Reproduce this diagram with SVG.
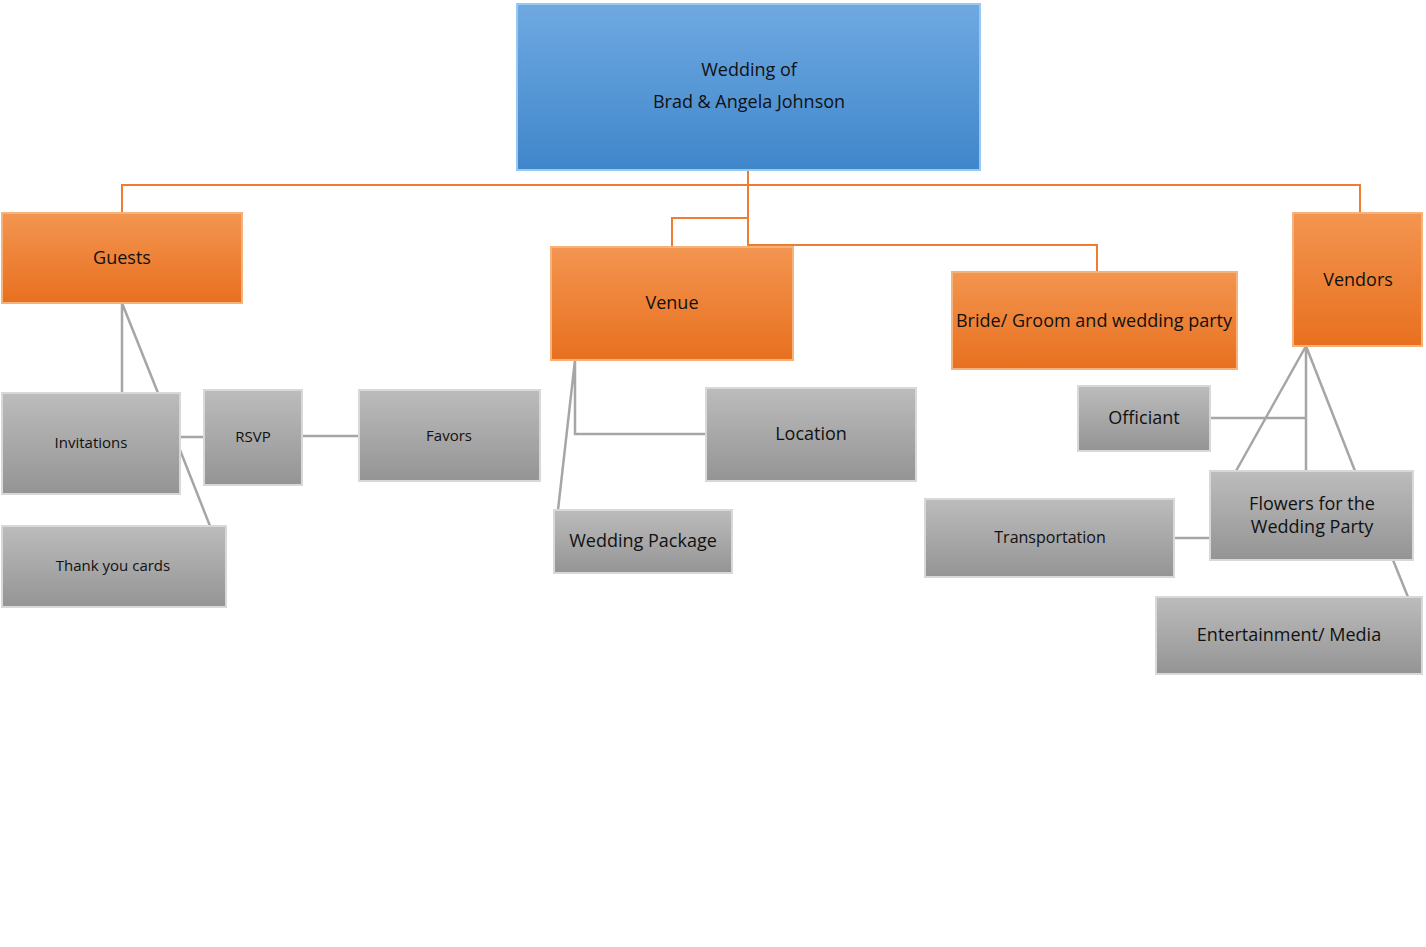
<svg xmlns="http://www.w3.org/2000/svg" width="1426" height="947" viewBox="0 0 1426 947">
<style>
text{font-family:"Open Sans","Noto Sans",sans-serif;fill:#111;text-anchor:middle}
.o{fill:url(#og);stroke:#f5b27a;stroke-width:2}
.g{fill:url(#gg);stroke:#d8d8d8;stroke-width:2}
.oc{stroke:#ed7d31;stroke-width:2;fill:none}
.gc{stroke:#a6a6a6;stroke-width:2.5;fill:none}
</style>
<defs>
<linearGradient id="bg" x1="0" y1="0" x2="0" y2="1"><stop offset="0" stop-color="#6fa9e2"/><stop offset="1" stop-color="#3f86ca"/></linearGradient>
<linearGradient id="og" x1="0" y1="0" x2="0" y2="1"><stop offset="0" stop-color="#f39550"/><stop offset="1" stop-color="#e8701f"/></linearGradient>
<linearGradient id="gg" x1="0" y1="0" x2="0" y2="1"><stop offset="0" stop-color="#bcbcbc"/><stop offset="1" stop-color="#949494"/></linearGradient>
</defs>
<rect width="1426" height="947" fill="#fff"/>
<g id="connectors">
<path class="oc" d="M748 170V246M122 213V185H1360V213M672 247V218H748M748 245H1097V272"/>
<path class="gc" d="M122 303V393M122 303L158 393M180 437H204M302 436H359M180 450L210 526M575 360V434H706M575 360L558 510M1306 346V471M1306 346L1236 471M1306 346L1355 471M1210 418H1306M1174 538H1210M1393 560L1408 597"/>
</g>
<g id="root"><rect x="517" y="4" width="463" height="166" fill="url(#bg)" stroke="#9cc8f0" stroke-width="2"/><text x="749" y="76" font-size="18">Wedding of</text><text x="749" y="108" font-size="18">Brad &amp; Angela Johnson</text></g>
<g id="guests"><rect class="o" x="2" y="213" width="240" height="90"/><text x="122" y="264" font-size="18">Guests</text></g>
<g id="venue"><rect class="o" x="551" y="247" width="242" height="113"/><text x="672" y="309" font-size="18">Venue</text></g>
<g id="bride"><rect class="o" x="952" y="272" width="285" height="97"/><text x="1094" y="327" font-size="18">Bride/ Groom and wedding party</text></g>
<g id="vendors"><rect class="o" x="1293" y="213" width="129" height="133"/><text x="1358" y="286" font-size="18">Vendors</text></g>
<g id="invitations"><rect class="g" x="2" y="393" width="178" height="101"/><text x="91" y="448" font-size="15">Invitations</text></g>
<g id="rsvp"><rect class="g" x="204" y="390" width="98" height="95"/><text x="253" y="442" font-size="15">RSVP</text></g>
<g id="favors"><rect class="g" x="359" y="390" width="181" height="91"/><text x="449" y="441" font-size="15">Favors</text></g>
<g id="thankyou"><rect class="g" x="2" y="526" width="224" height="81"/><text x="113" y="571" font-size="15">Thank you cards</text></g>
<g id="location"><rect class="g" x="706" y="388" width="210" height="93"/><text x="811" y="440" font-size="18">Location</text></g>
<g id="package"><rect class="g" x="554" y="510" width="178" height="63"/><text x="643" y="547" font-size="18">Wedding Package</text></g>
<g id="officiant"><rect class="g" x="1078" y="386" width="132" height="65"/><text x="1144" y="424" font-size="18">Officiant</text></g>
<g id="transportation"><rect class="g" x="925" y="499" width="249" height="78"/><text x="1050" y="543" font-size="16">Transportation</text></g>
<g id="flowers"><rect class="g" x="1210" y="471" width="203" height="89"/><text x="1312" y="510" font-size="18">Flowers for the</text><text x="1312" y="533" font-size="18">Wedding Party</text></g>
<g id="entertainment"><rect class="g" x="1156" y="597" width="266" height="77"/><text x="1289" y="641" font-size="18">Entertainment/ Media</text></g>
</svg>
